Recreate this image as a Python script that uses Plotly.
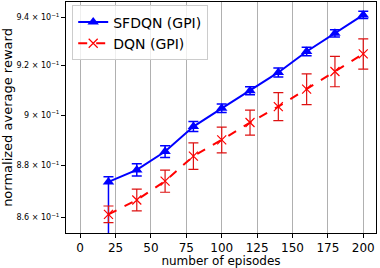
import plotly.graph_objects as go

episodes = [20, 40, 60, 80, 100, 120, 140, 160, 180, 200]

sfdqn_mean = [0.8736, 0.8783, 0.8855, 0.8954, 0.9027, 0.9098, 0.9172, 0.9258, 0.9333, 0.9410]
sfdqn_err_plus = [0.0020, 0.0024, 0.0023, 0.0020, 0.0017, 0.0016, 0.0018, 0.0017, 0.0015, 0.0015]
sfdqn_err_minus = [0.0800, 0.0024, 0.0023, 0.0020, 0.0017, 0.0016, 0.0018, 0.0017, 0.0015, 0.0015]

dqn_mean = [0.8611, 0.8666, 0.8739, 0.8837, 0.8901, 0.8970, 0.9034, 0.9104, 0.9176, 0.9248]
dqn_err = [0.0032, 0.0042, 0.0043, 0.0052, 0.0051, 0.0050, 0.0056, 0.0062, 0.0062, 0.0062]

x_ticks = [0, 25, 50, 75, 100, 125, 150, 175, 200]
y_ticks = [0.86, 0.88, 0.90, 0.92, 0.94]
y_ticklabels = ["8.6 × 10<sup>−1</sup>", "8.8 × 10<sup>−1</sup>", "9 × 10<sup>−1</sup>",
                "9.2 × 10<sup>−1</sup>", "9.4 × 10<sup>−1</sup>"]

fig = go.Figure()
fig.add_trace(go.Scatter(
    x=episodes, y=sfdqn_mean, name="SFDQN (GPI)", mode="lines+markers",
    line=dict(color="#0000ff", width=2),
    marker=dict(symbol="triangle-up", size=10, color="#0000ff"),
    error_y=dict(type="data", symmetric=False, array=sfdqn_err_plus,
                 arrayminus=sfdqn_err_minus, color="#0000ff", thickness=1.5, width=5),
))
fig.add_trace(go.Scatter(
    x=episodes, y=dqn_mean, name="DQN (GPI)", mode="lines+markers",
    line=dict(color="#ff0000", width=2, dash="dash"),
    marker=dict(symbol="x-thin-open", size=9, color="#ff0000",
                line=dict(color="#ff0000", width=1.2)),
    error_y=dict(type="data", array=dqn_err, color="#dd1111", thickness=1.2, width=5),
))

fig.update_layout(
    width=380, height=268,
    margin=dict(l=66, r=4, t=2, b=35),
    paper_bgcolor="white", plot_bgcolor="white",
    font=dict(family="DejaVu Sans", size=12, color="black"),
    showlegend=True,
    legend=dict(x=0.02, y=0.985, xanchor="left", yanchor="top",
                bgcolor="rgba(255,255,255,0.8)", bordercolor="#cccccc", borderwidth=1,
                font=dict(size=14, family="DejaVu Sans"), tracegroupgap=0, itemwidth=30),
)
fig.update_xaxes(
    range=[-10, 209], tickvals=x_ticks, ticktext=[str(v) for v in x_ticks],
    automargin=False,
    showgrid=True, gridcolor="#b0b0b0", gridwidth=1,
    showline=True, linecolor="black", linewidth=1, mirror=True,
    ticks="outside", ticklen=4, tickcolor="black", tickfont=dict(size=12),
    zeroline=False,
    title=dict(text="number of episodes", font=dict(size=12), standoff=2),
)
fig.update_yaxes(
    type="log", range=[-0.06855, -0.02392],
    tickvals=y_ticks, ticktext=y_ticklabels, tickfont=dict(size=8),
    automargin=False,
    showgrid=False,
    showline=True, linecolor="black", linewidth=1, mirror=True,
    ticks="outside", ticklen=4, tickcolor="black",
    zeroline=False,
    title=dict(text="normalized average reward", font=dict(size=13), standoff=2),
)

fig.write_html("out.html", config={"displayModeBar": False},
               post_script="document.body.style.margin='0';")
